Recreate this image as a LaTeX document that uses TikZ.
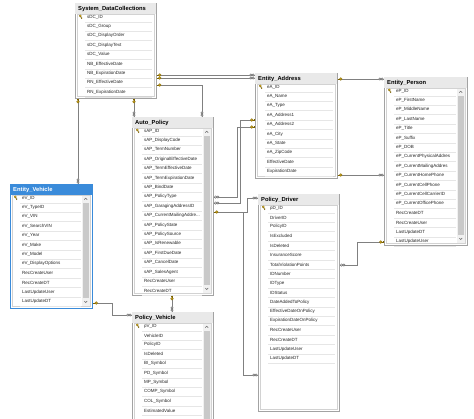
\documentclass[tikz,border=0pt]{standalone}
\usepackage{fontspec}
\setmainfont{Liberation Sans}
\setsansfont{Liberation Sans}
\definecolor{boxgray}{HTML}{A3A3A3}
\definecolor{bandgray}{HTML}{E9E9E9}
\definecolor{selblue}{HTML}{3A8BDA}
\definecolor{sepgray}{HTML}{E6E6E6}
\definecolor{framegray}{HTML}{D2D2D2}
\definecolor{conngray}{HTML}{808080}
\definecolor{manygray}{HTML}{6E6E6E}
\definecolor{keyyellow}{HTML}{F0C020}
\definecolor{keydark}{HTML}{7A6000}
\definecolor{rowtext}{HTML}{262626}
\definecolor{scrolltrack}{HTML}{F1F1F1}
\definecolor{scrollthumb}{HTML}{C9C9C9}
\definecolor{arrowgray}{HTML}{606060}
\tikzset{
  rowtxt/.style={anchor=west, inner sep=0pt, font=\fontsize{4.5}{5}\selectfont, text=rowtext},
  titletxt/.style={anchor=west, inner sep=0pt, font=\bfseries\fontsize{5.8}{6}\selectfont},
  boxn/.style={draw=boxgray, fill=white, line width=0.6pt},
  boxs/.style={draw=selblue, fill=white, line width=1pt},
  bandn/.style={fill=bandgray},
  bands/.style={fill=selblue},
  titlen/.style={text=black},
  titles/.style={text=white},
  rowsep/.style={draw=sepgray, line width=0.35pt},
  innerframe/.style={draw=framegray, line width=0.4pt},
  conn/.style={draw=conngray, line width=0.8pt},
  pics/keyend/.style={code={
     \draw[keydark, line width=0.5pt] (0,0) -- (1.9,0);
     \draw[keydark, line width=0.4pt] (0.8,0) -- (0.8,0.9);
     \filldraw[fill=keyyellow, draw=keydark, line width=0.4pt] (3.2,0) circle (1.3);
  }},
  pics/manyend/.style={code={
     \filldraw[fill=white, draw=manygray, line width=0.5pt] (1.9,0) circle (1.15) (4.2,0) circle (1.15);
  }},
  pics/pkicon/.style={code={
     \filldraw[fill=keyyellow, draw=keydark, line width=0.3pt] (-0.7,-1.1) circle (1.1);
     \draw[keydark, line width=0.6pt] (-0.2,-0.2) -- (0.9,1.9);
     \draw[keydark, line width=0.4pt] (0.5,1.1) -- (1.2,0.8);
  }},
}
\newcommand{\dbtable}[9]{%
  \node[box#9, anchor=north west, inner sep=0pt, minimum width={(#4)-(#2)}, minimum height={(#5)-(#3)}] (#1) at (#2,#3) {};
  \fill[band#9] ({#2+0.4},{#3+0.4}) rectangle ({#4-0.4},{#3+11});
  \draw[innerframe] ({#2+2},{#3+11}) rectangle ({#4-2},{#5-2});
  \ifnum#8=1\relax
    \fill[scrolltrack] ({#4-10},{#3+11.5}) rectangle ({#4-2.5},{#5-2.5});
    \fill[scrollthumb] ({#4-9.5},{#3+19}) rectangle ({#4-3},{#5-10});
    \draw[arrowgray, line width=0.5pt] ({#4-7.8},{#3+15.6}) -- ({#4-6.3},{#3+14.2}) -- ({#4-4.8},{#3+15.6});
    \draw[arrowgray, line width=0.5pt] ({#4-7.8},{#5-6.9}) -- ({#4-6.3},{#5-5.5}) -- ({#4-4.8},{#5-6.9});
    \def\sepend{#4-11}%
  \else
    \def\sepend{#4-4}%
  \fi
  \foreach \rowname [count=\rowidx from 0] in {#7} {
    \draw[rowsep] ({#2+10},{#3+18.7+9.4*\rowidx}) -- ({\sepend},{#3+18.7+9.4*\rowidx});
    \node[rowtxt] at ({#2+12},{#3+14+9.4*\rowidx}) {\rowname};
  }
  \pic at ({#2+6},{#3+14}) {pkicon};
  \node[titletxt, title#9] at ({#2+3},{#3+6}) {#6};
}
\begin{document}
\begin{tikzpicture}[x=1pt,y=-1pt]
\useasboundingbox (0,0) rectangle (474,418);
\clip (0,0) rectangle (474,418);
\fill[white] (0,0) rectangle (474,418);

\dbtable{sdc}{75}{3}{156}{98}{System\_DataCollections}{sDC\_ID, sDC\_Group, sDC\_DisplayOrder, sDC\_DisplayText, sDC\_Value, NB\_EffectiveDate, NB\_ExpirationDate, RN\_EffectiveDate, RN\_ExpirationDate}{0}{n}

\dbtable{ap}{132}{117}{213}{295}{Auto\_Policy}{sAP\_ID, sAP\_DisplayCode, sAP\_TermNumber, sAP\_OriginalEffectiveDate, sAP\_TermEffectiveDate, sAP\_TermExpirationDate, sAP\_BindDate, sAP\_PolicyType, sAP\_GaragingAddressID, {sAP\_CurrentMailingAddre.\kern0pt.\kern0pt.}, sAP\_PolicyState, sAP\_PolicySource, sAP\_IsRenewable, sAP\_FirstDueDate, sAP\_CancelDate, sAP\_SalesAgent, RecCreateUser, RecCreateDT}{1}{n}

\dbtable{ev}{10}{184}{92}{308}{Entity\_Vehicle}{eV\_ID, eV\_TypeID, eV\_VIN, eV\_SearchVIN, eV\_Year, eV\_Make, eV\_Model, eV\_DisplayOptions, RecCreateUser, RecCreateDT, LastUpdateUser, LastUpdateDT}{1}{s}

\dbtable{ea}{255}{73}{337}{178}{Entity\_Address}{eA\_ID, eA\_Name, eA\_Type, eA\_Address1, eA\_Address2, eA\_City, eA\_State, eA\_ZipCode, EffectiveDate, ExpirationDate}{0}{n}

\dbtable{ep}{384}{77}{467}{245}{Entity\_Person}{eP\_ID, eP\_FirstName, eP\_MiddleName, eP\_LastName, eP\_Title, eP\_Suffix, eP\_DOB, eP\_CurrentPhysicalAddres, eP\_CurrentMailingAddres, eP\_CurrentHomePhone, eP\_CurrentCellPhone, eP\_CurrentCellCarrierID, eP\_CurrentOfficePhone, RecCreateDT, RecCreateUser, LastUpdateDT, LastUpdateUser}{1}{n}

\dbtable{pd}{258}{194}{339}{411}{Policy\_Driver}{pD\_ID, DriverID, PolicyID, IsExcluded, IsDeleted, InsuranceScore, TotalViolationPoints, IDNumber, IDType, IDStatus, DateAddedToPolicy, EffectiveDateOnPolicy, ExpirationDateOnPolicy, RecCreateUser, RecCreateDT, LastUpdateUser, LastUpdateDT}{0}{n}

\dbtable{pv}{132}{312}{213}{440}{Policy\_Vehicle}{pV\_ID, VehicleID, PolicyID, IsDeleted, BI\_Symbol, PD\_Symbol, MP\_Symbol, COMP\_Symbol, COL\_Symbol, EstimatedValue}{1}{n}

% connectors
\draw[conn] (sdc.east |- 0,75) -- (ea.west |- 0,75);
\draw[conn] (sdc.east |- 0,78) -- (ea.west |- 0,78);
\draw[conn] (sdc.east |- 0,85) -| (ap.north -| 202,0);
\draw[conn] (sdc.south -| 78,0) -- (ev.north -| 78,0);
\draw[conn] (sdc.south -| 134,0) -- (ap.north -| 134,0);
\draw[conn] (ap.east |- 0,197) -| (237,127) -- (ea.west |- 0,127);
\draw[conn] (ap.east |- 0,203) -| (240,120) -- (ea.west |- 0,120);
\draw[conn] (ap.east |- 0,212) -| (247,198) -- (pd.west |- 0,198);
\draw[conn] (ap.east |- 0,212) -| (243,375) -- (pd.west |- 0,375);
\draw[conn] (ea.east |- 0,79) -- (ep.west |- 0,79);
\draw[conn] (ea.east |- 0,175) -- (ep.west |- 0,175);
\draw[conn] (ep.west |- 0,242) -| (357,265) -- (pd.east |- 0,265);
\draw[conn] (ev.east |- 0,303) -| (112,315) -- (pv.west |- 0,315);
\draw[conn] (ap.south -| 172,0) -- (pv.north -| 172,0);

% end markers
\pic at (sdc.east |- 0,75) {keyend};
\pic at (sdc.east |- 0,78) {keyend};
\pic at (sdc.east |- 0,85) {keyend};
\pic[rotate=180] at (ea.west |- 0,75) {manyend};
\pic[rotate=180] at (ea.west |- 0,78) {manyend};
\pic[rotate=90] at (ap.north -| 202,0) {manyend};
\pic[rotate=-90] at (sdc.south -| 78,0) {keyend};
\pic[rotate=90] at (ev.north -| 78,0) {manyend};
\pic[rotate=-90] at (sdc.south -| 134,0) {keyend};
\pic[rotate=90] at (ap.north -| 134,0) {manyend};
\pic at (ap.east |- 0,197) {manyend};
\pic at (ap.east |- 0,203) {manyend};
\pic[rotate=180] at (ea.west |- 0,127) {keyend};
\pic[rotate=180] at (ea.west |- 0,120) {keyend};
\pic at (ap.east |- 0,212) {keyend};
\pic[rotate=180] at (pd.west |- 0,198) {manyend};
\pic[rotate=180] at (pd.west |- 0,375) {manyend};
\pic at (ea.east |- 0,79) {keyend};
\pic at (ea.east |- 0,175) {keyend};
\pic[rotate=180] at (ep.west |- 0,79) {manyend};
\pic[rotate=180] at (ep.west |- 0,175) {manyend};
\pic[rotate=180] at (ep.west |- 0,242) {keyend};
\pic at (pd.east |- 0,265) {manyend};
\pic at (ev.east |- 0,303) {keyend};
\pic[rotate=180] at (pv.west |- 0,315) {manyend};
\pic[rotate=-90] at (ap.south -| 172,0) {keyend};
\pic[rotate=90] at (pv.north -| 172,0) {manyend};
\end{tikzpicture}
\end{document}
